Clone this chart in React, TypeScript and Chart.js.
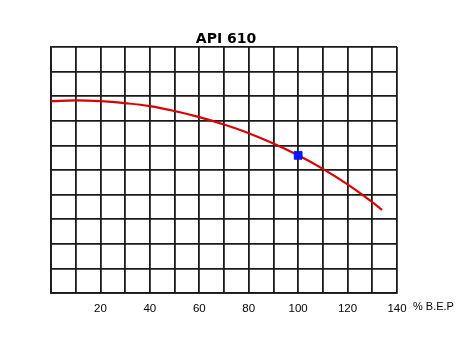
import React, { useEffect, useRef } from "react";
import { Chart, registerables } from "chart.js";

Chart.register(...registerables);

// Head curve, % of best efficiency point flow vs relative head
const flowPct = [0, 10, 20, 30, 40, 50, 60, 70, 80, 90, 100, 110, 120, 130, 134];
const headVals = [7.8, 7.83, 7.8, 7.72, 7.6, 7.4, 7.15, 6.85, 6.5, 6.08, 5.6, 5.05, 4.42, 3.7, 3.38];

// Rated point
const bepFlow = [100];
const bepHead = [5.6];

const chartTitle = "API 610";
const axisUnit = "% B.E.P";
const labelledTicks = [20, 40, 60, 80, 100, 120, 140];

const TITLE_FONT = "'DejaVu Sans', Verdana, sans-serif";
const TICK_FONT = "'Liberation Sans', Arial, sans-serif";

const overlayText = {
  id: "overlayText",
  afterDraw(chart: any) {
    const { ctx, chartArea } = chart;
    ctx.save();
    ctx.fillStyle = "#000";
    ctx.font = `bold 14px ${TITLE_FONT}`;
    ctx.textAlign = "center";
    ctx.textBaseline = "alphabetic";
    ctx.fillText(chartTitle, (chartArea.left + chartArea.right) / 2 + 2, chartArea.top - 4.5);

    const xs = chart.scales.x;
    const lastTick = xs.getPixelForValue(140);
    ctx.font = `11px ${TICK_FONT}`;
    ctx.textAlign = "left";
    ctx.textBaseline = "middle";
    ctx.fillText(axisUnit, lastTick + 16, chartArea.bottom + 14);
    ctx.restore();
  },
};

export default function App() {
  const canvasRef = useRef<HTMLCanvasElement | null>(null);

  useEffect(() => {
    if (!canvasRef.current) return;
    const chart = new Chart(canvasRef.current, {
      type: "line",
      data: {
        datasets: [
          {
            label: "BEP",
            data: bepFlow.map((x, i) => ({ x, y: bepHead[i] })),
            showLine: false,
            pointStyle: "rect",
            pointRadius: 5.5,
            pointBackgroundColor: "#0a14ff",
            pointBorderColor: "#0a14ff",
            pointBorderWidth: 1,
            order: 0,
          },
          {
            label: "Head",
            data: flowPct.map((x, i) => ({ x, y: headVals[i] })),
            borderColor: "#d80000",
            borderWidth: 2.2,
            pointRadius: 0,
            tension: 0.4,
            fill: false,
            order: 1,
          },
        ],
      },
      options: {
        animation: false,
        responsive: true,
        maintainAspectRatio: false,
        layout: { padding: { left: 43, right: 69, top: 39, bottom: 13 } },
        plugins: {
          legend: { display: false },
          title: { display: false },
          tooltip: { enabled: false },
        },
        scales: {
          x: {
            type: "linear",
            min: 0,
            max: 140,
            border: { display: true, color: "#1a1a1a", width: 1.8 },
            grid: { color: "#1a1a1a", lineWidth: 1.8, drawTicks: false },
            ticks: {
              stepSize: 10,
              autoSkip: false,
              maxRotation: 0,
              padding: 9,
              color: "#000",
              font: { family: TICK_FONT, size: 11.5 },
              callback: (v: any) => (labelledTicks.includes(Number(v)) ? String(v) : ""),
            },
          },
          y: {
            type: "linear",
            min: 0,
            max: 10,
            border: { display: true, color: "#1a1a1a", width: 1.8 },
            grid: { color: "#1a1a1a", lineWidth: 1.8, drawTicks: false },
            ticks: { stepSize: 1, display: false },
          },
        },
      },
      plugins: [overlayText],
    });
    return () => chart.destroy();
  }, []);

  return (
    <div style={{ width: 458, height: 330, position: "relative" }}>
      <canvas ref={canvasRef} />
    </div>
  );
}
